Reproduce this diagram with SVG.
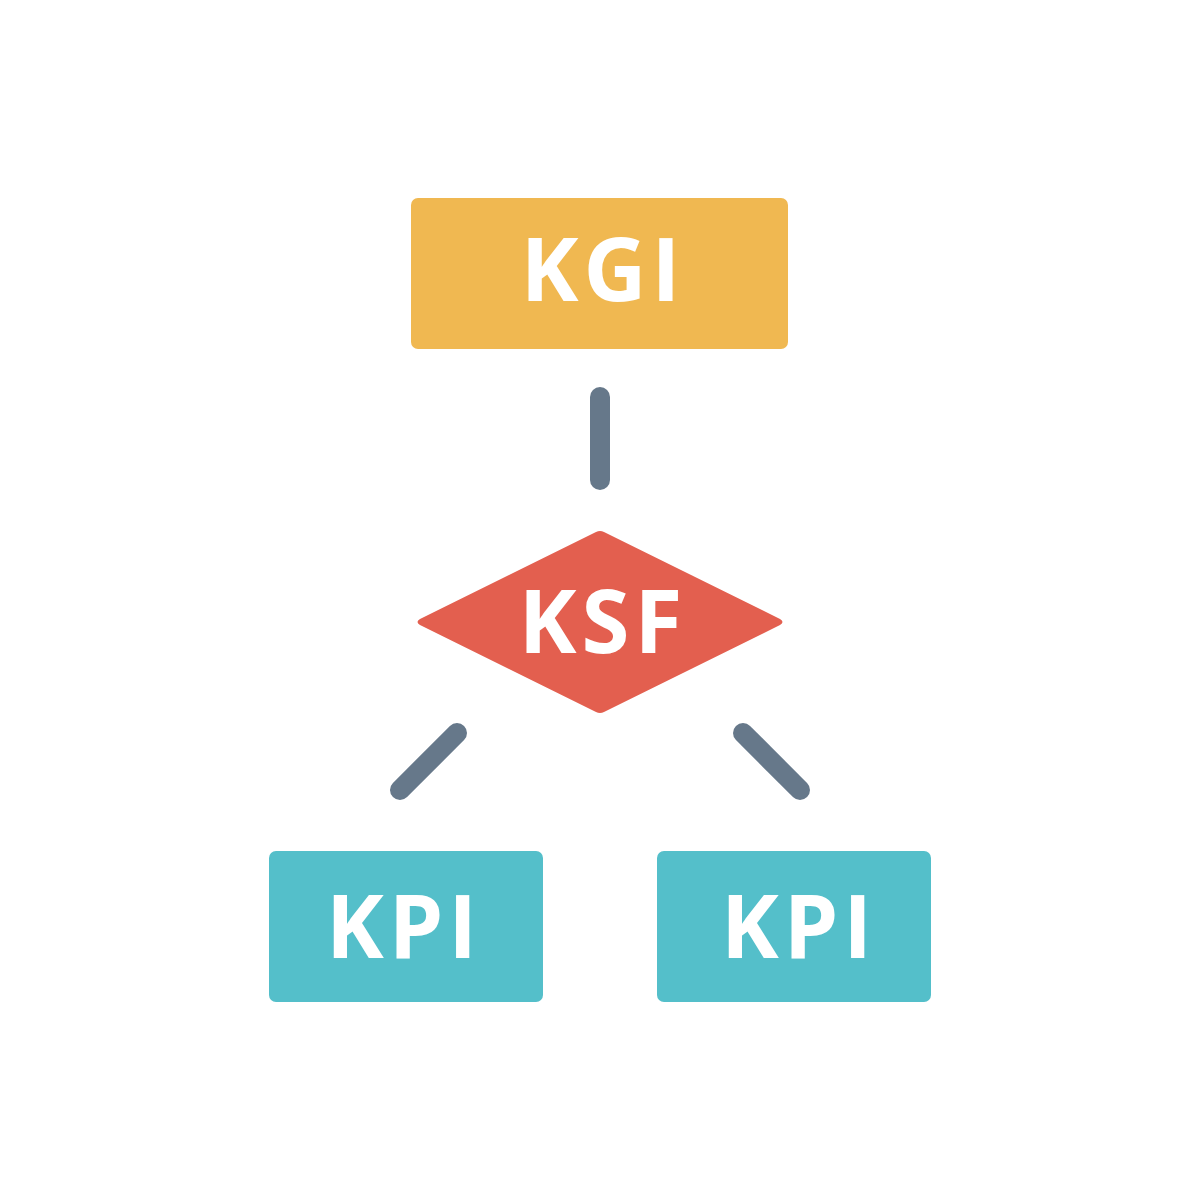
<svg xmlns="http://www.w3.org/2000/svg" width="1200" height="1200" viewBox="0 0 1200 1200">
<style>
.lbl{font-family:"Open Sans","Noto Sans","Liberation Sans",sans-serif;font-weight:700;font-size:87px;letter-spacing:5px;fill:#ffffff;text-anchor:middle}
.conn{stroke:#66788A;stroke-width:20;stroke-linecap:round;fill:none}
</style>
<rect width="1200" height="1200" fill="#ffffff"/>
<g id="connectors">
<line class="conn" x1="600" y1="397" x2="600" y2="480"/>
<line class="conn" x1="457" y1="733" x2="400" y2="790"/>
<line class="conn" x1="743" y1="733" x2="800" y2="790"/>
</g>
<g id="kgi">
<rect x="411" y="198" width="377" height="151" rx="7" fill="#F0B851"/>
<text class="lbl" x="603" y="301">KGI</text>
</g>
<g id="ksf">
<path d="M596,532 Q600,530 604,532 L780,619 Q785,622 780,625 L604,712 Q600,714 596,712 L420,625 Q415,622 420,619 Z" fill="#E35F4F"/>
<text class="lbl" x="603" y="653">KSF</text>
</g>
<g id="kpi1">
<rect x="269" y="851" width="274" height="151" rx="7" fill="#54BFCA"/>
<text class="lbl" x="404" y="958">KPI</text>
</g>
<g id="kpi2">
<rect x="657" y="851" width="274" height="151" rx="7" fill="#54BFCA"/>
<text class="lbl" x="799" y="958">KPI</text>
</g>
</svg>
